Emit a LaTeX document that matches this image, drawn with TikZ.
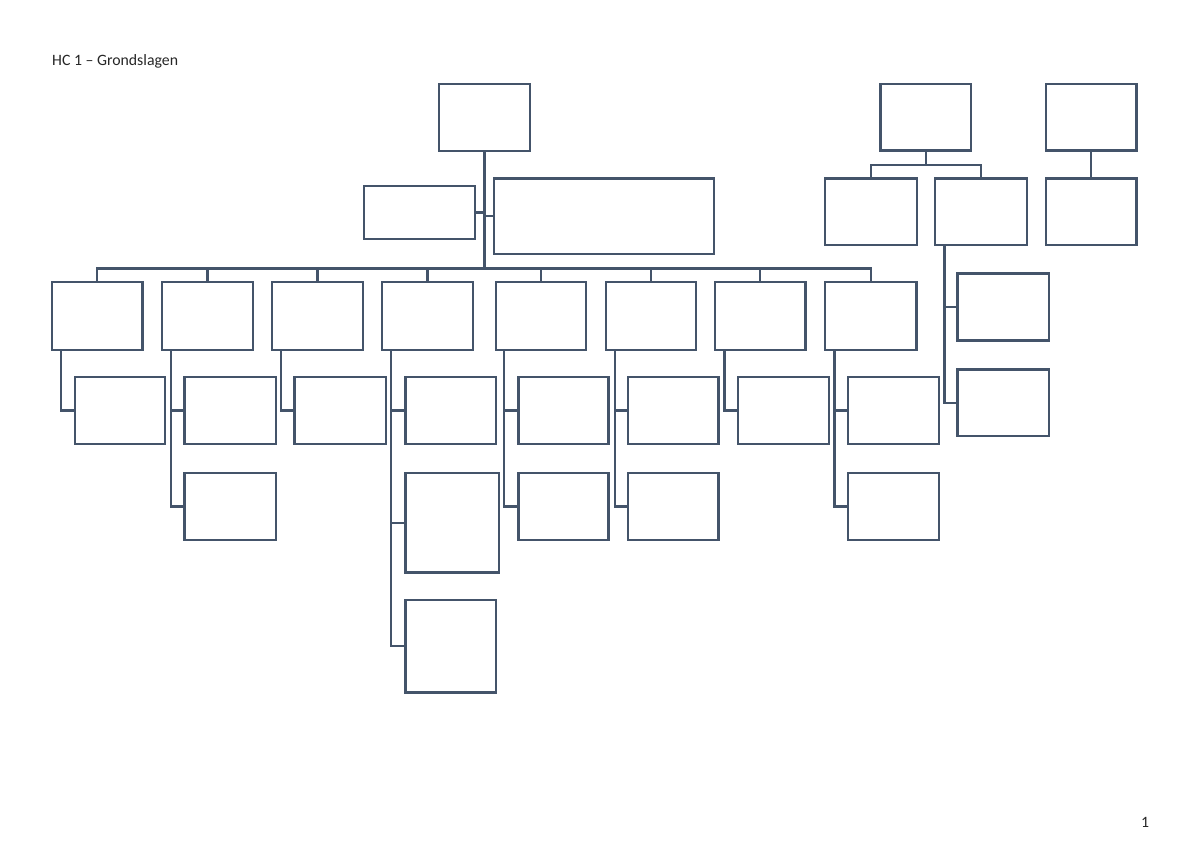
\documentclass[tikz,border=0pt]{standalone}
\usepackage{fontspec}
\setmainfont{Carlito}
\definecolor{slate}{HTML}{44546A}
\tikzset{
  box/.style={draw=slate, line width=2.2pt, inner sep=0pt, outer sep=0pt, anchor=north west, fill=white},
  conn/.style={draw=slate, line width=2.1pt},
  lbl/.style={inner sep=0pt, anchor=base west, font=\fontsize{15.8}{19}\selectfont, text=black!85}
}
\newcommand\bx[5]{\node[box, minimum width={#4-#2}, minimum height={#5-#3}] (#1) at (#2,#3) {};}
\begin{document}
\begin{tikzpicture}[x=1pt, y=-1pt]
\useasboundingbox (0,0) rectangle (1200,848);
\node[lbl] (title) at (52,65.7) {HC 1 – Grondslagen};
\node[lbl] (pnum) at (1141,827) {1};

% main tree
\coordinate (busy) at (0,268.5);
\coordinate (rbusy) at (0,165.3);
\bx{root}{439}{84}{530}{151}
\bx{asl}{364}{186}{475}{239}
\bx{asr}{494}{178.5}{714}{254}
% level 1
\bx{la}{52}{282}{142.5}{350}
\bx{lb}{162}{282}{253}{350}
\bx{lc}{272}{282}{363}{350}
\bx{ld}{382}{282}{473}{350}
\bx{le}{496}{282}{586}{350}
\bx{lf}{606}{282}{696}{350}
\bx{lg}{715}{282}{805.5}{350}
\bx{lh}{825}{282}{916.5}{350}
% level 2
\bx{ca}{75}{377}{165}{444}
\bx{cba}{184.5}{377}{276}{444}
\bx{cbb}{184.5}{473}{276}{540}
\bx{cc}{294.5}{377}{386}{444}
\bx{cda}{405.5}{377}{496}{444}
\bx{cdb}{405.5}{473}{499}{572.5}
\bx{cdc}{405.5}{600}{496}{692.5}
\bx{cea}{518.5}{377}{608.5}{444}
\bx{ceb}{518.5}{473}{608.5}{540}
\bx{cfa}{628}{377}{718.5}{444}
\bx{cfb}{628}{473}{718.5}{540}
\bx{cg}{738}{377}{829}{444}
\bx{cha}{848}{377}{939}{444}
\bx{chb}{848}{473}{939}{540}
% right groups
\bx{ra}{880.5}{84}{971}{150.5}
\bx{raa}{825}{178.5}{917}{245}
\bx{rab}{935}{178.5}{1027}{245}
\bx{raba}{957.5}{273.5}{1049}{340.5}
\bx{rabb}{957.5}{369.5}{1049}{436}
\bx{rb}{1046}{84}{1136.5}{150.5}
\bx{rba}{1046}{178.5}{1136.5}{245}

% trunk points under parents
\coordinate (ta) at ([xshift=9pt]la.south west);
\coordinate (tb) at ([xshift=9pt]lb.south west);
\coordinate (tc) at ([xshift=9pt]lc.south west);
\coordinate (td) at ([xshift=9pt]ld.south west);
\coordinate (te) at ([xshift=8pt]le.south west);
\coordinate (tf) at ([xshift=9pt]lf.south west);
\coordinate (tg) at ([xshift=9.5pt]lg.south west);
\coordinate (th) at ([xshift=9.5pt]lh.south west);
\coordinate (tr) at ([xshift=9.5pt]rab.south west);

% connectors main
\draw[conn] (root.south) -- (root.south |- busy);
\draw[conn] (asl.east) -- (asl.east -| root.south);
\draw[conn] (asr.west) -- (asr.west -| root.south);
\draw[conn] (la.north) -- (la.north |- busy) -- (lh.north |- busy) -- (lh.north);
\foreach \n in {lb,lc,ld,le,lf,lg} {\draw[conn] (\n.north) -- (\n.north |- busy);}
% children
\draw[conn] (ta) |- (ca.west);
\draw[conn] (tb) |- (cbb.west);
\draw[conn] (cba.west) -- (cba.west -| tb);
\draw[conn] (tc) |- (cc.west);
\draw[conn] (td) |- (cdc.west);
\draw[conn] (cda.west) -- (cda.west -| td);
\draw[conn] (cdb.west) -- (cdb.west -| td);
\draw[conn] (te) |- (ceb.west);
\draw[conn] (cea.west) -- (cea.west -| te);
\draw[conn] (tf) |- (cfb.west);
\draw[conn] (cfa.west) -- (cfa.west -| tf);
\draw[conn] (tg) |- (cg.west);
\draw[conn] (th) |- (chb.west);
\draw[conn] (cha.west) -- (cha.west -| th);
% right connectors
\draw[conn] (ra.south) -- (ra.south |- rbusy);
\draw[conn] (raa.north) -- (raa.north |- rbusy) -- (rab.north |- rbusy) -- (rab.north);
\draw[conn] (tr) |- (rabb.west);
\draw[conn] (raba.west) -- (raba.west -| tr);
\draw[conn] (rb.south) -- (rba.north);
\end{tikzpicture}
\end{document}
